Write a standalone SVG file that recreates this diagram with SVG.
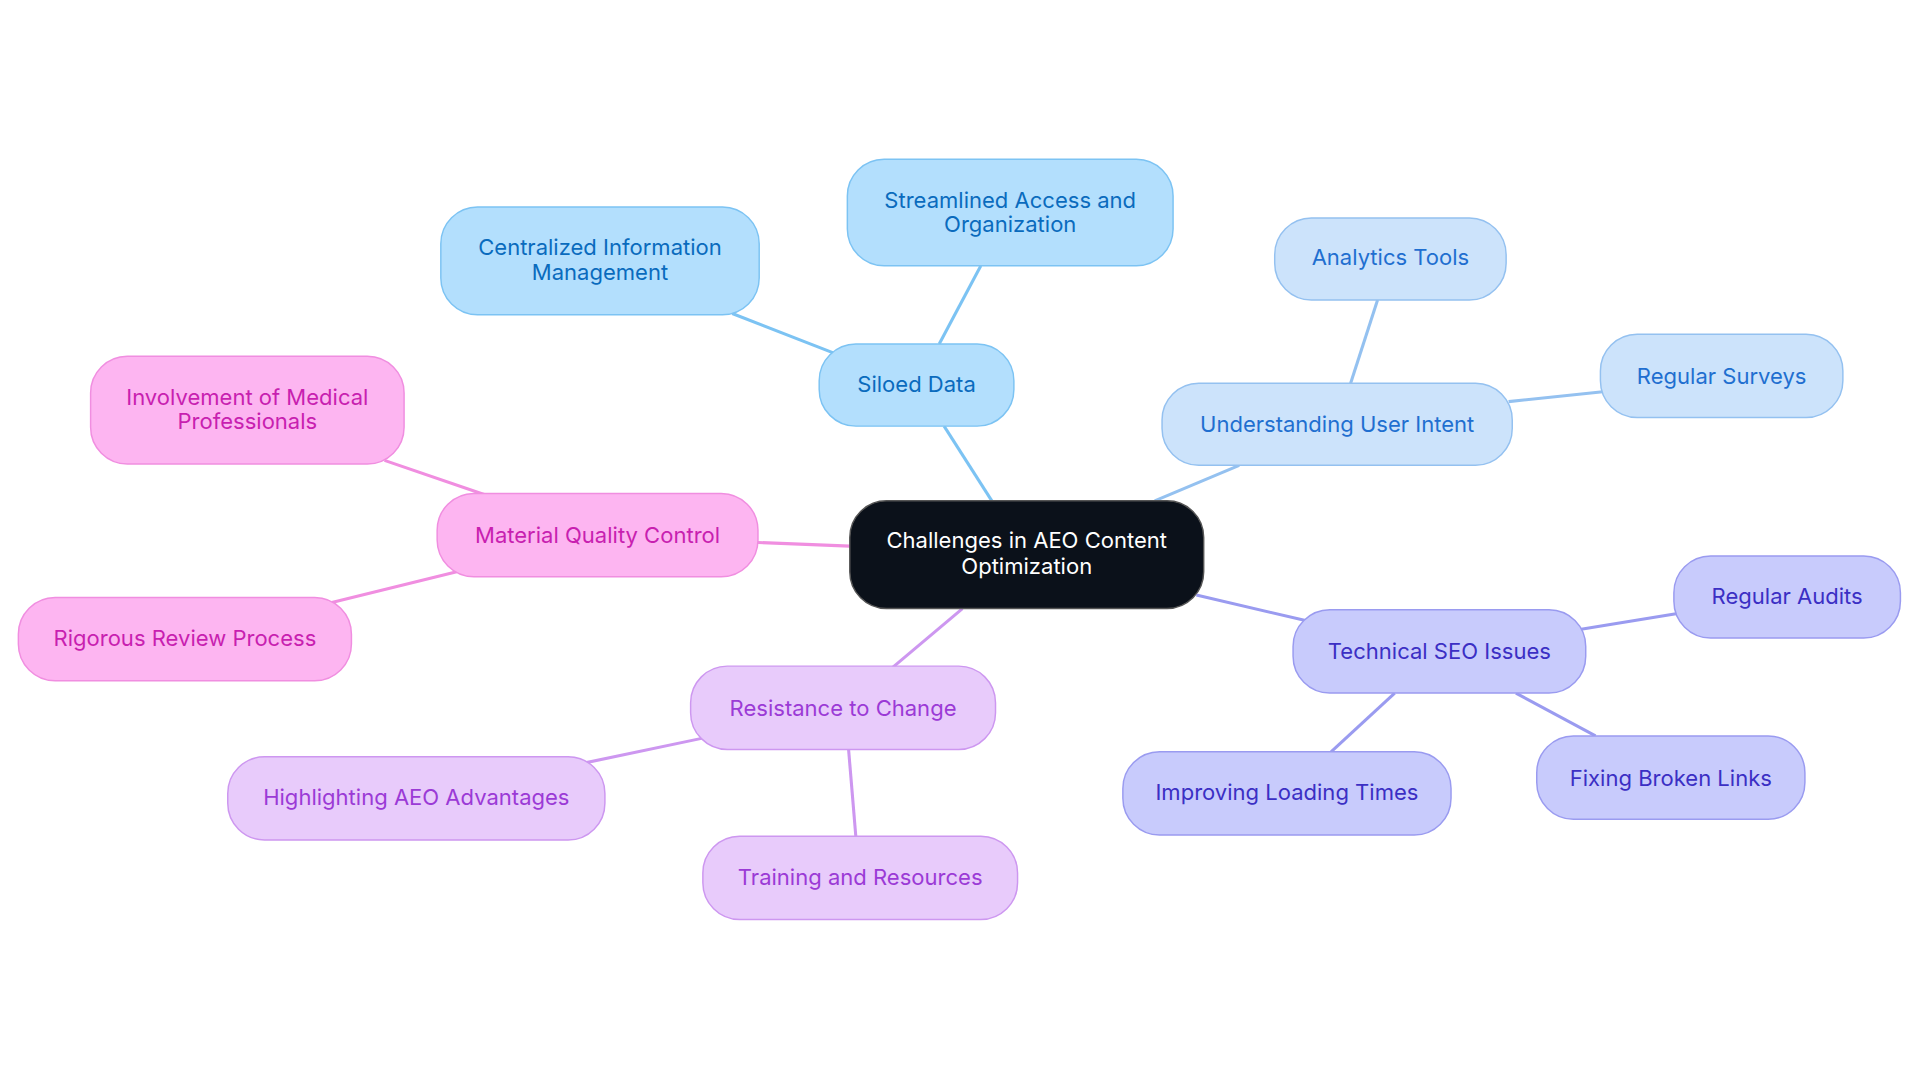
<svg xmlns="http://www.w3.org/2000/svg" width="1920" height="1083" viewBox="0 0 1920 1083">
<style>
text{font-family:Inter,"Noto Sans",sans-serif;font-size:18px;text-anchor:middle;dominant-baseline:central}
.e line{stroke-width:2.5;fill:none}
.s rect{fill:#b3dffd;stroke:#7cc3f3}.s text{fill:#0a6bbd}
.u rect{fill:#cce3fb;stroke:#94c1f0}.u text{fill:#1f6fd0}
.t rect{fill:#c8cbfc;stroke:#9a9bf0}.t text{fill:#3b2fc4}
.r rect{fill:#e8cbfb;stroke:#cd97f0}.r text{fill:#9b3ad6}
.m rect{fill:#fdb5f1;stroke:#f08ee0}.m text{fill:#c81fb0}
rect{stroke-width:1.2}
</style>
<rect width="1920" height="1083" fill="#fff"/>
<g transform="scale(1.2245)">
<g id="connectors" class="e">
<line x1="810" y1="409" x2="771" y2="348" stroke="#7cc3f3"/>
<line x1="680" y1="288" x2="598" y2="256" stroke="#7cc3f3"/>
<line x1="767" y1="281" x2="801" y2="217" stroke="#7cc3f3"/>
<line x1="943" y1="409" x2="1012" y2="380" stroke="#94c1f0"/>
<line x1="1103" y1="313" x2="1125" y2="245" stroke="#94c1f0"/>
<line x1="1232" y1="328" x2="1309" y2="320" stroke="#94c1f0"/>
<line x1="977" y1="486" x2="1067" y2="507" stroke="#9a9bf0"/>
<line x1="1290" y1="514" x2="1370" y2="501" stroke="#9a9bf0"/>
<line x1="1139" y1="566" x2="1087" y2="614" stroke="#9a9bf0"/>
<line x1="1238" y1="566" x2="1303" y2="601" stroke="#9a9bf0"/>
<line x1="786" y1="497" x2="729" y2="545" stroke="#cd97f0"/>
<line x1="573" y1="603" x2="478" y2="623" stroke="#cd97f0"/>
<line x1="693" y1="612" x2="699" y2="684" stroke="#cd97f0"/>
<line x1="694" y1="446" x2="619" y2="443" stroke="#f08ee0"/>
<line x1="396" y1="404" x2="314" y2="376" stroke="#f08ee0"/>
<line x1="373" y1="467" x2="271" y2="492" stroke="#f08ee0"/>
</g>
<g id="central"><rect x="694" y="409" width="289" height="88" rx="30" fill="#0b111a" stroke="#555"/><text x="838.5" y="441" fill="#fff">Challenges in AEO Content</text><text x="838.5" y="462" fill="#fff">Optimization</text></g>
<g id="siloed" class="s"><rect x="669" y="281" width="159" height="67" rx="30"/><text x="748.5" y="314">Siloed Data</text></g>
<g id="centralized" class="s"><rect x="360" y="169" width="260" height="88" rx="30"/><text x="490" y="202">Centralized Information</text><text x="490" y="222">Management</text></g>
<g id="streamlined" class="s"><rect x="692" y="130" width="266" height="87" rx="30"/><text x="825" y="163">Streamlined Access and</text><text x="825" y="183">Organization</text></g>
<g id="uui" class="u"><rect x="949" y="313" width="286" height="67" rx="30"/><text x="1092" y="346">Understanding User Intent</text></g>
<g id="analytics" class="u"><rect x="1041" y="178" width="189" height="67" rx="30"/><text x="1135.5" y="210">Analytics Tools</text></g>
<g id="surveys" class="u"><rect x="1307" y="273" width="198" height="68" rx="30"/><text x="1406" y="307">Regular Surveys</text></g>
<g id="tseo" class="t"><rect x="1056" y="498" width="239" height="68" rx="30"/><text x="1175.5" y="532">Technical SEO Issues</text></g>
<g id="audits" class="t"><rect x="1367" y="454" width="185" height="67" rx="30"/><text x="1459.5" y="487">Regular Audits</text></g>
<g id="loading" class="t"><rect x="917" y="614" width="268" height="68" rx="30"/><text x="1051" y="647">Improving Loading Times</text></g>
<g id="broken" class="t"><rect x="1255" y="601" width="219" height="68" rx="30"/><text x="1364.5" y="635">Fixing Broken Links</text></g>
<g id="resistance" class="r"><rect x="564" y="544" width="249" height="68" rx="30"/><text x="688.5" y="578">Resistance to Change</text></g>
<g id="highlighting" class="r"><rect x="186" y="618" width="308" height="68" rx="30"/><text x="340" y="651">Highlighting AEO Advantages</text></g>
<g id="training" class="r"><rect x="574" y="683" width="257" height="68" rx="30"/><text x="702.5" y="716">Training and Resources</text></g>
<g id="mqc" class="m"><rect x="357" y="403" width="262" height="68" rx="30"/><text x="488" y="437">Material Quality Control</text></g>
<g id="involvement" class="m"><rect x="74" y="291" width="256" height="88" rx="30"/><text x="202" y="324">Involvement of Medical</text><text x="202" y="344">Professionals</text></g>
<g id="rigorous" class="m"><rect x="15" y="488" width="272" height="68" rx="30"/><text x="151" y="521">Rigorous Review Process</text></g>
</g>
</svg>
